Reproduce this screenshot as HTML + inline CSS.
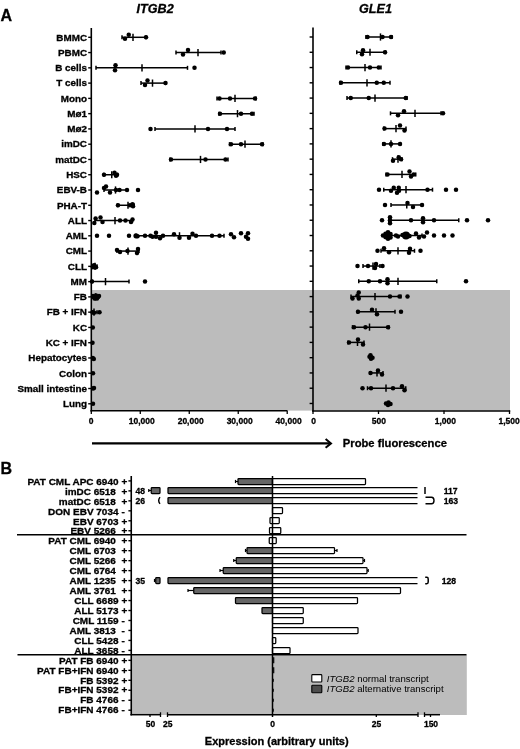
<!DOCTYPE html>
<html><head><meta charset="utf-8"><title>Figure</title>
<style>
html,body{margin:0;padding:0;background:#fff;}
svg{display:block;}
text{font-family:"Liberation Sans",sans-serif;fill:#000;}
</style></head><body>
<svg width="520" height="749" viewBox="0 0 520 749">
<rect x="0" y="0" width="520" height="749" fill="#fff"/>
<rect x="92.00" y="290.00" width="418.00" height="120.60" fill="#bcbcbc"/>
<text transform="translate(87.00,40.60) scale(1.05,1)" font-size="9.4" font-weight="bold" font-style="normal" text-anchor="end" stroke="#000" stroke-width="0.3">BMMC</text>
<line x1="88.20" y1="37.30" x2="91.30" y2="37.30" stroke="#000" stroke-width="1.4" stroke-linecap="butt"/>
<line x1="309.60" y1="37.00" x2="313.00" y2="37.00" stroke="#000" stroke-width="1.4" stroke-linecap="butt"/>
<text transform="translate(87.00,55.87) scale(1.05,1)" font-size="9.4" font-weight="bold" font-style="normal" text-anchor="end" stroke="#000" stroke-width="0.3">PBMC</text>
<line x1="88.20" y1="52.57" x2="91.30" y2="52.57" stroke="#000" stroke-width="1.4" stroke-linecap="butt"/>
<line x1="309.60" y1="52.27" x2="313.00" y2="52.27" stroke="#000" stroke-width="1.4" stroke-linecap="butt"/>
<text transform="translate(87.00,71.14) scale(1.05,1)" font-size="9.4" font-weight="bold" font-style="normal" text-anchor="end" stroke="#000" stroke-width="0.3">B cells</text>
<line x1="88.20" y1="67.84" x2="91.30" y2="67.84" stroke="#000" stroke-width="1.4" stroke-linecap="butt"/>
<line x1="309.60" y1="67.54" x2="313.00" y2="67.54" stroke="#000" stroke-width="1.4" stroke-linecap="butt"/>
<text transform="translate(87.00,86.41) scale(1.05,1)" font-size="9.4" font-weight="bold" font-style="normal" text-anchor="end" stroke="#000" stroke-width="0.3">T cells</text>
<line x1="88.20" y1="83.11" x2="91.30" y2="83.11" stroke="#000" stroke-width="1.4" stroke-linecap="butt"/>
<line x1="309.60" y1="82.81" x2="313.00" y2="82.81" stroke="#000" stroke-width="1.4" stroke-linecap="butt"/>
<text transform="translate(87.00,101.68) scale(1.05,1)" font-size="9.4" font-weight="bold" font-style="normal" text-anchor="end" stroke="#000" stroke-width="0.3">Mono</text>
<line x1="88.20" y1="98.38" x2="91.30" y2="98.38" stroke="#000" stroke-width="1.4" stroke-linecap="butt"/>
<line x1="309.60" y1="98.08" x2="313.00" y2="98.08" stroke="#000" stroke-width="1.4" stroke-linecap="butt"/>
<text transform="translate(87.00,116.95) scale(1.05,1)" font-size="9.4" font-weight="bold" font-style="normal" text-anchor="end" stroke="#000" stroke-width="0.3">Mø1</text>
<line x1="88.20" y1="113.65" x2="91.30" y2="113.65" stroke="#000" stroke-width="1.4" stroke-linecap="butt"/>
<line x1="309.60" y1="113.35" x2="313.00" y2="113.35" stroke="#000" stroke-width="1.4" stroke-linecap="butt"/>
<text transform="translate(87.00,132.22) scale(1.05,1)" font-size="9.4" font-weight="bold" font-style="normal" text-anchor="end" stroke="#000" stroke-width="0.3">Mø2</text>
<line x1="88.20" y1="128.92" x2="91.30" y2="128.92" stroke="#000" stroke-width="1.4" stroke-linecap="butt"/>
<line x1="309.60" y1="128.62" x2="313.00" y2="128.62" stroke="#000" stroke-width="1.4" stroke-linecap="butt"/>
<text transform="translate(87.00,147.49) scale(1.05,1)" font-size="9.4" font-weight="bold" font-style="normal" text-anchor="end" stroke="#000" stroke-width="0.3">imDC</text>
<line x1="88.20" y1="144.19" x2="91.30" y2="144.19" stroke="#000" stroke-width="1.4" stroke-linecap="butt"/>
<line x1="309.60" y1="143.89" x2="313.00" y2="143.89" stroke="#000" stroke-width="1.4" stroke-linecap="butt"/>
<text transform="translate(87.00,162.76) scale(1.05,1)" font-size="9.4" font-weight="bold" font-style="normal" text-anchor="end" stroke="#000" stroke-width="0.3">matDC</text>
<line x1="88.20" y1="159.46" x2="91.30" y2="159.46" stroke="#000" stroke-width="1.4" stroke-linecap="butt"/>
<line x1="309.60" y1="159.16" x2="313.00" y2="159.16" stroke="#000" stroke-width="1.4" stroke-linecap="butt"/>
<text transform="translate(87.00,178.03) scale(1.05,1)" font-size="9.4" font-weight="bold" font-style="normal" text-anchor="end" stroke="#000" stroke-width="0.3">HSC</text>
<line x1="88.20" y1="174.73" x2="91.30" y2="174.73" stroke="#000" stroke-width="1.4" stroke-linecap="butt"/>
<line x1="309.60" y1="174.43" x2="313.00" y2="174.43" stroke="#000" stroke-width="1.4" stroke-linecap="butt"/>
<text transform="translate(87.00,193.30) scale(1.05,1)" font-size="9.4" font-weight="bold" font-style="normal" text-anchor="end" stroke="#000" stroke-width="0.3">EBV-B</text>
<line x1="88.20" y1="190.00" x2="91.30" y2="190.00" stroke="#000" stroke-width="1.4" stroke-linecap="butt"/>
<line x1="309.60" y1="189.70" x2="313.00" y2="189.70" stroke="#000" stroke-width="1.4" stroke-linecap="butt"/>
<text transform="translate(87.00,208.57) scale(1.05,1)" font-size="9.4" font-weight="bold" font-style="normal" text-anchor="end" stroke="#000" stroke-width="0.3">PHA-T</text>
<line x1="88.20" y1="205.27" x2="91.30" y2="205.27" stroke="#000" stroke-width="1.4" stroke-linecap="butt"/>
<line x1="309.60" y1="204.97" x2="313.00" y2="204.97" stroke="#000" stroke-width="1.4" stroke-linecap="butt"/>
<text transform="translate(87.00,223.84) scale(1.05,1)" font-size="9.4" font-weight="bold" font-style="normal" text-anchor="end" stroke="#000" stroke-width="0.3">ALL</text>
<line x1="88.20" y1="220.54" x2="91.30" y2="220.54" stroke="#000" stroke-width="1.4" stroke-linecap="butt"/>
<line x1="309.60" y1="220.24" x2="313.00" y2="220.24" stroke="#000" stroke-width="1.4" stroke-linecap="butt"/>
<text transform="translate(87.00,239.11) scale(1.05,1)" font-size="9.4" font-weight="bold" font-style="normal" text-anchor="end" stroke="#000" stroke-width="0.3">AML</text>
<line x1="88.20" y1="235.81" x2="91.30" y2="235.81" stroke="#000" stroke-width="1.4" stroke-linecap="butt"/>
<line x1="309.60" y1="235.51" x2="313.00" y2="235.51" stroke="#000" stroke-width="1.4" stroke-linecap="butt"/>
<text transform="translate(87.00,254.38) scale(1.05,1)" font-size="9.4" font-weight="bold" font-style="normal" text-anchor="end" stroke="#000" stroke-width="0.3">CML</text>
<line x1="88.20" y1="251.08" x2="91.30" y2="251.08" stroke="#000" stroke-width="1.4" stroke-linecap="butt"/>
<line x1="309.60" y1="250.78" x2="313.00" y2="250.78" stroke="#000" stroke-width="1.4" stroke-linecap="butt"/>
<text transform="translate(87.00,269.65) scale(1.05,1)" font-size="9.4" font-weight="bold" font-style="normal" text-anchor="end" stroke="#000" stroke-width="0.3">CLL</text>
<line x1="88.20" y1="266.35" x2="91.30" y2="266.35" stroke="#000" stroke-width="1.4" stroke-linecap="butt"/>
<line x1="309.60" y1="266.05" x2="313.00" y2="266.05" stroke="#000" stroke-width="1.4" stroke-linecap="butt"/>
<text transform="translate(87.00,284.92) scale(1.05,1)" font-size="9.4" font-weight="bold" font-style="normal" text-anchor="end" stroke="#000" stroke-width="0.3">MM</text>
<line x1="88.20" y1="281.62" x2="91.30" y2="281.62" stroke="#000" stroke-width="1.4" stroke-linecap="butt"/>
<line x1="309.60" y1="281.32" x2="313.00" y2="281.32" stroke="#000" stroke-width="1.4" stroke-linecap="butt"/>
<text transform="translate(87.00,300.19) scale(1.05,1)" font-size="9.4" font-weight="bold" font-style="normal" text-anchor="end" stroke="#000" stroke-width="0.3">FB</text>
<line x1="88.20" y1="296.89" x2="91.30" y2="296.89" stroke="#000" stroke-width="1.4" stroke-linecap="butt"/>
<line x1="309.60" y1="296.59" x2="313.00" y2="296.59" stroke="#000" stroke-width="1.4" stroke-linecap="butt"/>
<text transform="translate(87.00,315.46) scale(1.05,1)" font-size="9.4" font-weight="bold" font-style="normal" text-anchor="end" stroke="#000" stroke-width="0.3">FB + IFN</text>
<line x1="88.20" y1="312.16" x2="91.30" y2="312.16" stroke="#000" stroke-width="1.4" stroke-linecap="butt"/>
<line x1="309.60" y1="311.86" x2="313.00" y2="311.86" stroke="#000" stroke-width="1.4" stroke-linecap="butt"/>
<text transform="translate(87.00,330.73) scale(1.05,1)" font-size="9.4" font-weight="bold" font-style="normal" text-anchor="end" stroke="#000" stroke-width="0.3">KC</text>
<line x1="88.20" y1="327.43" x2="91.30" y2="327.43" stroke="#000" stroke-width="1.4" stroke-linecap="butt"/>
<line x1="309.60" y1="327.13" x2="313.00" y2="327.13" stroke="#000" stroke-width="1.4" stroke-linecap="butt"/>
<text transform="translate(87.00,346.00) scale(1.05,1)" font-size="9.4" font-weight="bold" font-style="normal" text-anchor="end" stroke="#000" stroke-width="0.3">KC + IFN</text>
<line x1="88.20" y1="342.70" x2="91.30" y2="342.70" stroke="#000" stroke-width="1.4" stroke-linecap="butt"/>
<line x1="309.60" y1="342.40" x2="313.00" y2="342.40" stroke="#000" stroke-width="1.4" stroke-linecap="butt"/>
<text transform="translate(87.00,361.27) scale(1.05,1)" font-size="9.4" font-weight="bold" font-style="normal" text-anchor="end" stroke="#000" stroke-width="0.3">Hepatocytes</text>
<line x1="88.20" y1="357.97" x2="91.30" y2="357.97" stroke="#000" stroke-width="1.4" stroke-linecap="butt"/>
<line x1="309.60" y1="357.67" x2="313.00" y2="357.67" stroke="#000" stroke-width="1.4" stroke-linecap="butt"/>
<text transform="translate(87.00,376.54) scale(1.05,1)" font-size="9.4" font-weight="bold" font-style="normal" text-anchor="end" stroke="#000" stroke-width="0.3">Colon</text>
<line x1="88.20" y1="373.24" x2="91.30" y2="373.24" stroke="#000" stroke-width="1.4" stroke-linecap="butt"/>
<line x1="309.60" y1="372.94" x2="313.00" y2="372.94" stroke="#000" stroke-width="1.4" stroke-linecap="butt"/>
<text transform="translate(87.00,391.81) scale(1.05,1)" font-size="9.4" font-weight="bold" font-style="normal" text-anchor="end" stroke="#000" stroke-width="0.3">Small intestine</text>
<line x1="88.20" y1="388.51" x2="91.30" y2="388.51" stroke="#000" stroke-width="1.4" stroke-linecap="butt"/>
<line x1="309.60" y1="388.21" x2="313.00" y2="388.21" stroke="#000" stroke-width="1.4" stroke-linecap="butt"/>
<text transform="translate(87.00,407.08) scale(1.05,1)" font-size="9.4" font-weight="bold" font-style="normal" text-anchor="end" stroke="#000" stroke-width="0.3">Lung</text>
<line x1="88.20" y1="403.78" x2="91.30" y2="403.78" stroke="#000" stroke-width="1.4" stroke-linecap="butt"/>
<line x1="309.60" y1="403.48" x2="313.00" y2="403.48" stroke="#000" stroke-width="1.4" stroke-linecap="butt"/>
<line x1="122.00" y1="37.30" x2="146.00" y2="37.30" stroke="#000" stroke-width="1.5" stroke-linecap="butt"/>
<line x1="122.00" y1="35.30" x2="122.00" y2="39.30" stroke="#000" stroke-width="1.5" stroke-linecap="butt"/>
<line x1="146.00" y1="35.30" x2="146.00" y2="39.30" stroke="#000" stroke-width="1.5" stroke-linecap="butt"/>
<line x1="133.00" y1="33.70" x2="133.00" y2="40.90" stroke="#000" stroke-width="1.5" stroke-linecap="butt"/>
<line x1="176.00" y1="52.57" x2="221.00" y2="52.57" stroke="#000" stroke-width="1.5" stroke-linecap="butt"/>
<line x1="176.00" y1="50.57" x2="176.00" y2="54.57" stroke="#000" stroke-width="1.5" stroke-linecap="butt"/>
<line x1="221.00" y1="50.57" x2="221.00" y2="54.57" stroke="#000" stroke-width="1.5" stroke-linecap="butt"/>
<line x1="198.00" y1="48.97" x2="198.00" y2="56.17" stroke="#000" stroke-width="1.5" stroke-linecap="butt"/>
<line x1="96.00" y1="67.84" x2="187.50" y2="67.84" stroke="#000" stroke-width="1.5" stroke-linecap="butt"/>
<line x1="96.00" y1="65.84" x2="96.00" y2="69.84" stroke="#000" stroke-width="1.5" stroke-linecap="butt"/>
<line x1="187.50" y1="65.84" x2="187.50" y2="69.84" stroke="#000" stroke-width="1.5" stroke-linecap="butt"/>
<line x1="142.00" y1="64.24" x2="142.00" y2="71.44" stroke="#000" stroke-width="1.5" stroke-linecap="butt"/>
<line x1="141.00" y1="83.11" x2="165.50" y2="83.11" stroke="#000" stroke-width="1.5" stroke-linecap="butt"/>
<line x1="141.00" y1="81.11" x2="141.00" y2="85.11" stroke="#000" stroke-width="1.5" stroke-linecap="butt"/>
<line x1="165.50" y1="81.11" x2="165.50" y2="85.11" stroke="#000" stroke-width="1.5" stroke-linecap="butt"/>
<line x1="152.50" y1="79.51" x2="152.50" y2="86.71" stroke="#000" stroke-width="1.5" stroke-linecap="butt"/>
<line x1="217.00" y1="98.38" x2="256.00" y2="98.38" stroke="#000" stroke-width="1.5" stroke-linecap="butt"/>
<line x1="217.00" y1="96.38" x2="217.00" y2="100.38" stroke="#000" stroke-width="1.5" stroke-linecap="butt"/>
<line x1="256.00" y1="96.38" x2="256.00" y2="100.38" stroke="#000" stroke-width="1.5" stroke-linecap="butt"/>
<line x1="235.00" y1="94.78" x2="235.00" y2="101.98" stroke="#000" stroke-width="1.5" stroke-linecap="butt"/>
<line x1="219.00" y1="113.65" x2="254.00" y2="113.65" stroke="#000" stroke-width="1.5" stroke-linecap="butt"/>
<line x1="219.00" y1="111.65" x2="219.00" y2="115.65" stroke="#000" stroke-width="1.5" stroke-linecap="butt"/>
<line x1="254.00" y1="111.65" x2="254.00" y2="115.65" stroke="#000" stroke-width="1.5" stroke-linecap="butt"/>
<line x1="237.50" y1="110.05" x2="237.50" y2="117.25" stroke="#000" stroke-width="1.5" stroke-linecap="butt"/>
<line x1="155.00" y1="128.92" x2="235.00" y2="128.92" stroke="#000" stroke-width="1.5" stroke-linecap="butt"/>
<line x1="155.00" y1="126.92" x2="155.00" y2="130.92" stroke="#000" stroke-width="1.5" stroke-linecap="butt"/>
<line x1="235.00" y1="126.92" x2="235.00" y2="130.92" stroke="#000" stroke-width="1.5" stroke-linecap="butt"/>
<line x1="195.00" y1="125.32" x2="195.00" y2="132.52" stroke="#000" stroke-width="1.5" stroke-linecap="butt"/>
<line x1="229.50" y1="144.19" x2="263.00" y2="144.19" stroke="#000" stroke-width="1.5" stroke-linecap="butt"/>
<line x1="229.50" y1="142.19" x2="229.50" y2="146.19" stroke="#000" stroke-width="1.5" stroke-linecap="butt"/>
<line x1="263.00" y1="142.19" x2="263.00" y2="146.19" stroke="#000" stroke-width="1.5" stroke-linecap="butt"/>
<line x1="245.00" y1="140.59" x2="245.00" y2="147.79" stroke="#000" stroke-width="1.5" stroke-linecap="butt"/>
<line x1="170.00" y1="159.46" x2="228.00" y2="159.46" stroke="#000" stroke-width="1.5" stroke-linecap="butt"/>
<line x1="170.00" y1="157.46" x2="170.00" y2="161.46" stroke="#000" stroke-width="1.5" stroke-linecap="butt"/>
<line x1="228.00" y1="157.46" x2="228.00" y2="161.46" stroke="#000" stroke-width="1.5" stroke-linecap="butt"/>
<line x1="200.50" y1="155.86" x2="200.50" y2="163.06" stroke="#000" stroke-width="1.5" stroke-linecap="butt"/>
<line x1="103.75" y1="174.73" x2="117.50" y2="174.73" stroke="#000" stroke-width="1.5" stroke-linecap="butt"/>
<line x1="103.75" y1="172.73" x2="103.75" y2="176.73" stroke="#000" stroke-width="1.5" stroke-linecap="butt"/>
<line x1="117.50" y1="172.73" x2="117.50" y2="176.73" stroke="#000" stroke-width="1.5" stroke-linecap="butt"/>
<line x1="111.75" y1="171.13" x2="111.75" y2="178.33" stroke="#000" stroke-width="1.5" stroke-linecap="butt"/>
<line x1="104.00" y1="190.00" x2="127.00" y2="190.00" stroke="#000" stroke-width="1.5" stroke-linecap="butt"/>
<line x1="104.00" y1="188.00" x2="104.00" y2="192.00" stroke="#000" stroke-width="1.5" stroke-linecap="butt"/>
<line x1="127.00" y1="188.00" x2="127.00" y2="192.00" stroke="#000" stroke-width="1.5" stroke-linecap="butt"/>
<line x1="115.50" y1="186.40" x2="115.50" y2="193.60" stroke="#000" stroke-width="1.5" stroke-linecap="butt"/>
<line x1="117.50" y1="205.27" x2="134.00" y2="205.27" stroke="#000" stroke-width="1.5" stroke-linecap="butt"/>
<line x1="117.50" y1="203.27" x2="117.50" y2="207.27" stroke="#000" stroke-width="1.5" stroke-linecap="butt"/>
<line x1="134.00" y1="203.27" x2="134.00" y2="207.27" stroke="#000" stroke-width="1.5" stroke-linecap="butt"/>
<line x1="128.00" y1="201.67" x2="128.00" y2="208.87" stroke="#000" stroke-width="1.5" stroke-linecap="butt"/>
<line x1="95.00" y1="220.54" x2="132.50" y2="220.54" stroke="#000" stroke-width="1.5" stroke-linecap="butt"/>
<line x1="95.00" y1="218.54" x2="95.00" y2="222.54" stroke="#000" stroke-width="1.5" stroke-linecap="butt"/>
<line x1="132.50" y1="218.54" x2="132.50" y2="222.54" stroke="#000" stroke-width="1.5" stroke-linecap="butt"/>
<line x1="115.00" y1="216.94" x2="115.00" y2="224.14" stroke="#000" stroke-width="1.5" stroke-linecap="butt"/>
<line x1="136.00" y1="235.81" x2="224.00" y2="235.81" stroke="#000" stroke-width="1.5" stroke-linecap="butt"/>
<line x1="136.00" y1="233.81" x2="136.00" y2="237.81" stroke="#000" stroke-width="1.5" stroke-linecap="butt"/>
<line x1="224.00" y1="233.81" x2="224.00" y2="237.81" stroke="#000" stroke-width="1.5" stroke-linecap="butt"/>
<line x1="179.50" y1="232.21" x2="179.50" y2="239.41" stroke="#000" stroke-width="1.5" stroke-linecap="butt"/>
<line x1="117.00" y1="251.08" x2="139.00" y2="251.08" stroke="#000" stroke-width="1.5" stroke-linecap="butt"/>
<line x1="117.00" y1="249.08" x2="117.00" y2="253.08" stroke="#000" stroke-width="1.5" stroke-linecap="butt"/>
<line x1="139.00" y1="249.08" x2="139.00" y2="253.08" stroke="#000" stroke-width="1.5" stroke-linecap="butt"/>
<line x1="128.00" y1="247.48" x2="128.00" y2="254.68" stroke="#000" stroke-width="1.5" stroke-linecap="butt"/>
<line x1="92.50" y1="266.35" x2="97.00" y2="266.35" stroke="#000" stroke-width="1.5" stroke-linecap="butt"/>
<line x1="92.50" y1="264.35" x2="92.50" y2="268.35" stroke="#000" stroke-width="1.5" stroke-linecap="butt"/>
<line x1="97.00" y1="264.35" x2="97.00" y2="268.35" stroke="#000" stroke-width="1.5" stroke-linecap="butt"/>
<line x1="95.00" y1="262.75" x2="95.00" y2="269.95" stroke="#000" stroke-width="1.5" stroke-linecap="butt"/>
<line x1="92.00" y1="281.62" x2="129.00" y2="281.62" stroke="#000" stroke-width="1.5" stroke-linecap="butt"/>
<line x1="92.00" y1="279.62" x2="92.00" y2="283.62" stroke="#000" stroke-width="1.5" stroke-linecap="butt"/>
<line x1="129.00" y1="279.62" x2="129.00" y2="283.62" stroke="#000" stroke-width="1.5" stroke-linecap="butt"/>
<line x1="105.50" y1="278.02" x2="105.50" y2="285.22" stroke="#000" stroke-width="1.5" stroke-linecap="butt"/>
<line x1="92.50" y1="296.89" x2="99.00" y2="296.89" stroke="#000" stroke-width="1.5" stroke-linecap="butt"/>
<line x1="92.50" y1="294.89" x2="92.50" y2="298.89" stroke="#000" stroke-width="1.5" stroke-linecap="butt"/>
<line x1="99.00" y1="294.89" x2="99.00" y2="298.89" stroke="#000" stroke-width="1.5" stroke-linecap="butt"/>
<line x1="95.50" y1="293.29" x2="95.50" y2="300.49" stroke="#000" stroke-width="1.5" stroke-linecap="butt"/>
<line x1="92.00" y1="312.16" x2="97.00" y2="312.16" stroke="#000" stroke-width="1.5" stroke-linecap="butt"/>
<line x1="92.00" y1="310.16" x2="92.00" y2="314.16" stroke="#000" stroke-width="1.5" stroke-linecap="butt"/>
<line x1="97.00" y1="310.16" x2="97.00" y2="314.16" stroke="#000" stroke-width="1.5" stroke-linecap="butt"/>
<line x1="94.00" y1="308.56" x2="94.00" y2="315.76" stroke="#000" stroke-width="1.5" stroke-linecap="butt"/>
<line x1="366.00" y1="37.00" x2="392.00" y2="37.00" stroke="#000" stroke-width="1.5" stroke-linecap="butt"/>
<line x1="366.00" y1="35.00" x2="366.00" y2="39.00" stroke="#000" stroke-width="1.5" stroke-linecap="butt"/>
<line x1="392.00" y1="35.00" x2="392.00" y2="39.00" stroke="#000" stroke-width="1.5" stroke-linecap="butt"/>
<line x1="380.50" y1="33.40" x2="380.50" y2="40.60" stroke="#000" stroke-width="1.5" stroke-linecap="butt"/>
<line x1="356.75" y1="52.27" x2="385.50" y2="52.27" stroke="#000" stroke-width="1.5" stroke-linecap="butt"/>
<line x1="356.75" y1="50.27" x2="356.75" y2="54.27" stroke="#000" stroke-width="1.5" stroke-linecap="butt"/>
<line x1="385.50" y1="50.27" x2="385.50" y2="54.27" stroke="#000" stroke-width="1.5" stroke-linecap="butt"/>
<line x1="370.00" y1="48.67" x2="370.00" y2="55.87" stroke="#000" stroke-width="1.5" stroke-linecap="butt"/>
<line x1="346.00" y1="67.54" x2="381.00" y2="67.54" stroke="#000" stroke-width="1.5" stroke-linecap="butt"/>
<line x1="346.00" y1="65.54" x2="346.00" y2="69.54" stroke="#000" stroke-width="1.5" stroke-linecap="butt"/>
<line x1="381.00" y1="65.54" x2="381.00" y2="69.54" stroke="#000" stroke-width="1.5" stroke-linecap="butt"/>
<line x1="365.00" y1="63.94" x2="365.00" y2="71.14" stroke="#000" stroke-width="1.5" stroke-linecap="butt"/>
<line x1="340.00" y1="82.81" x2="390.00" y2="82.81" stroke="#000" stroke-width="1.5" stroke-linecap="butt"/>
<line x1="340.00" y1="80.81" x2="340.00" y2="84.81" stroke="#000" stroke-width="1.5" stroke-linecap="butt"/>
<line x1="390.00" y1="80.81" x2="390.00" y2="84.81" stroke="#000" stroke-width="1.5" stroke-linecap="butt"/>
<line x1="367.00" y1="79.21" x2="367.00" y2="86.41" stroke="#000" stroke-width="1.5" stroke-linecap="butt"/>
<line x1="347.00" y1="98.08" x2="407.00" y2="98.08" stroke="#000" stroke-width="1.5" stroke-linecap="butt"/>
<line x1="347.00" y1="96.08" x2="347.00" y2="100.08" stroke="#000" stroke-width="1.5" stroke-linecap="butt"/>
<line x1="407.00" y1="96.08" x2="407.00" y2="100.08" stroke="#000" stroke-width="1.5" stroke-linecap="butt"/>
<line x1="375.00" y1="94.48" x2="375.00" y2="101.68" stroke="#000" stroke-width="1.5" stroke-linecap="butt"/>
<line x1="390.50" y1="113.35" x2="441.00" y2="113.35" stroke="#000" stroke-width="1.5" stroke-linecap="butt"/>
<line x1="390.50" y1="111.35" x2="390.50" y2="115.35" stroke="#000" stroke-width="1.5" stroke-linecap="butt"/>
<line x1="441.00" y1="111.35" x2="441.00" y2="115.35" stroke="#000" stroke-width="1.5" stroke-linecap="butt"/>
<line x1="415.00" y1="109.75" x2="415.00" y2="116.95" stroke="#000" stroke-width="1.5" stroke-linecap="butt"/>
<line x1="383.75" y1="128.62" x2="406.00" y2="128.62" stroke="#000" stroke-width="1.5" stroke-linecap="butt"/>
<line x1="383.75" y1="126.62" x2="383.75" y2="130.62" stroke="#000" stroke-width="1.5" stroke-linecap="butt"/>
<line x1="406.00" y1="126.62" x2="406.00" y2="130.62" stroke="#000" stroke-width="1.5" stroke-linecap="butt"/>
<line x1="396.00" y1="125.02" x2="396.00" y2="132.22" stroke="#000" stroke-width="1.5" stroke-linecap="butt"/>
<line x1="383.00" y1="143.89" x2="400.50" y2="143.89" stroke="#000" stroke-width="1.5" stroke-linecap="butt"/>
<line x1="383.00" y1="141.89" x2="383.00" y2="145.89" stroke="#000" stroke-width="1.5" stroke-linecap="butt"/>
<line x1="400.50" y1="141.89" x2="400.50" y2="145.89" stroke="#000" stroke-width="1.5" stroke-linecap="butt"/>
<line x1="391.00" y1="140.29" x2="391.00" y2="147.49" stroke="#000" stroke-width="1.5" stroke-linecap="butt"/>
<line x1="392.50" y1="159.16" x2="402.00" y2="159.16" stroke="#000" stroke-width="1.5" stroke-linecap="butt"/>
<line x1="392.50" y1="157.16" x2="392.50" y2="161.16" stroke="#000" stroke-width="1.5" stroke-linecap="butt"/>
<line x1="402.00" y1="157.16" x2="402.00" y2="161.16" stroke="#000" stroke-width="1.5" stroke-linecap="butt"/>
<line x1="398.00" y1="155.56" x2="398.00" y2="162.76" stroke="#000" stroke-width="1.5" stroke-linecap="butt"/>
<line x1="386.00" y1="174.43" x2="415.75" y2="174.43" stroke="#000" stroke-width="1.5" stroke-linecap="butt"/>
<line x1="386.00" y1="172.43" x2="386.00" y2="176.43" stroke="#000" stroke-width="1.5" stroke-linecap="butt"/>
<line x1="415.75" y1="172.43" x2="415.75" y2="176.43" stroke="#000" stroke-width="1.5" stroke-linecap="butt"/>
<line x1="402.00" y1="170.83" x2="402.00" y2="178.03" stroke="#000" stroke-width="1.5" stroke-linecap="butt"/>
<line x1="383.75" y1="189.70" x2="432.50" y2="189.70" stroke="#000" stroke-width="1.5" stroke-linecap="butt"/>
<line x1="383.75" y1="187.70" x2="383.75" y2="191.70" stroke="#000" stroke-width="1.5" stroke-linecap="butt"/>
<line x1="432.50" y1="187.70" x2="432.50" y2="191.70" stroke="#000" stroke-width="1.5" stroke-linecap="butt"/>
<line x1="406.00" y1="186.10" x2="406.00" y2="193.30" stroke="#000" stroke-width="1.5" stroke-linecap="butt"/>
<line x1="391.00" y1="204.97" x2="422.50" y2="204.97" stroke="#000" stroke-width="1.5" stroke-linecap="butt"/>
<line x1="391.00" y1="202.97" x2="391.00" y2="206.97" stroke="#000" stroke-width="1.5" stroke-linecap="butt"/>
<line x1="422.50" y1="202.97" x2="422.50" y2="206.97" stroke="#000" stroke-width="1.5" stroke-linecap="butt"/>
<line x1="406.75" y1="201.37" x2="406.75" y2="208.57" stroke="#000" stroke-width="1.5" stroke-linecap="butt"/>
<line x1="388.75" y1="220.24" x2="458.75" y2="220.24" stroke="#000" stroke-width="1.5" stroke-linecap="butt"/>
<line x1="388.75" y1="218.24" x2="388.75" y2="222.24" stroke="#000" stroke-width="1.5" stroke-linecap="butt"/>
<line x1="458.75" y1="218.24" x2="458.75" y2="222.24" stroke="#000" stroke-width="1.5" stroke-linecap="butt"/>
<line x1="423.00" y1="216.64" x2="423.00" y2="223.84" stroke="#000" stroke-width="1.5" stroke-linecap="butt"/>
<line x1="381.00" y1="250.78" x2="414.50" y2="250.78" stroke="#000" stroke-width="1.5" stroke-linecap="butt"/>
<line x1="381.00" y1="248.78" x2="381.00" y2="252.78" stroke="#000" stroke-width="1.5" stroke-linecap="butt"/>
<line x1="414.50" y1="248.78" x2="414.50" y2="252.78" stroke="#000" stroke-width="1.5" stroke-linecap="butt"/>
<line x1="398.00" y1="247.18" x2="398.00" y2="254.38" stroke="#000" stroke-width="1.5" stroke-linecap="butt"/>
<line x1="363.00" y1="266.05" x2="380.00" y2="266.05" stroke="#000" stroke-width="1.5" stroke-linecap="butt"/>
<line x1="363.00" y1="264.05" x2="363.00" y2="268.05" stroke="#000" stroke-width="1.5" stroke-linecap="butt"/>
<line x1="380.00" y1="264.05" x2="380.00" y2="268.05" stroke="#000" stroke-width="1.5" stroke-linecap="butt"/>
<line x1="373.00" y1="262.45" x2="373.00" y2="269.65" stroke="#000" stroke-width="1.5" stroke-linecap="butt"/>
<line x1="358.75" y1="281.32" x2="436.75" y2="281.32" stroke="#000" stroke-width="1.5" stroke-linecap="butt"/>
<line x1="358.75" y1="279.32" x2="358.75" y2="283.32" stroke="#000" stroke-width="1.5" stroke-linecap="butt"/>
<line x1="436.75" y1="279.32" x2="436.75" y2="283.32" stroke="#000" stroke-width="1.5" stroke-linecap="butt"/>
<line x1="398.00" y1="277.72" x2="398.00" y2="284.92" stroke="#000" stroke-width="1.5" stroke-linecap="butt"/>
<line x1="351.00" y1="296.59" x2="401.00" y2="296.59" stroke="#000" stroke-width="1.5" stroke-linecap="butt"/>
<line x1="351.00" y1="294.59" x2="351.00" y2="298.59" stroke="#000" stroke-width="1.5" stroke-linecap="butt"/>
<line x1="401.00" y1="294.59" x2="401.00" y2="298.59" stroke="#000" stroke-width="1.5" stroke-linecap="butt"/>
<line x1="375.00" y1="292.99" x2="375.00" y2="300.19" stroke="#000" stroke-width="1.5" stroke-linecap="butt"/>
<line x1="357.50" y1="311.86" x2="395.00" y2="311.86" stroke="#000" stroke-width="1.5" stroke-linecap="butt"/>
<line x1="357.50" y1="309.86" x2="357.50" y2="313.86" stroke="#000" stroke-width="1.5" stroke-linecap="butt"/>
<line x1="395.00" y1="309.86" x2="395.00" y2="313.86" stroke="#000" stroke-width="1.5" stroke-linecap="butt"/>
<line x1="376.00" y1="308.26" x2="376.00" y2="315.46" stroke="#000" stroke-width="1.5" stroke-linecap="butt"/>
<line x1="352.50" y1="327.13" x2="389.00" y2="327.13" stroke="#000" stroke-width="1.5" stroke-linecap="butt"/>
<line x1="352.50" y1="325.13" x2="352.50" y2="329.13" stroke="#000" stroke-width="1.5" stroke-linecap="butt"/>
<line x1="389.00" y1="325.13" x2="389.00" y2="329.13" stroke="#000" stroke-width="1.5" stroke-linecap="butt"/>
<line x1="369.50" y1="323.53" x2="369.50" y2="330.73" stroke="#000" stroke-width="1.5" stroke-linecap="butt"/>
<line x1="348.00" y1="342.40" x2="364.00" y2="342.40" stroke="#000" stroke-width="1.5" stroke-linecap="butt"/>
<line x1="348.00" y1="340.40" x2="348.00" y2="344.40" stroke="#000" stroke-width="1.5" stroke-linecap="butt"/>
<line x1="364.00" y1="340.40" x2="364.00" y2="344.40" stroke="#000" stroke-width="1.5" stroke-linecap="butt"/>
<line x1="357.50" y1="338.80" x2="357.50" y2="346.00" stroke="#000" stroke-width="1.5" stroke-linecap="butt"/>
<line x1="370.00" y1="372.94" x2="383.00" y2="372.94" stroke="#000" stroke-width="1.5" stroke-linecap="butt"/>
<line x1="370.00" y1="370.94" x2="370.00" y2="374.94" stroke="#000" stroke-width="1.5" stroke-linecap="butt"/>
<line x1="383.00" y1="370.94" x2="383.00" y2="374.94" stroke="#000" stroke-width="1.5" stroke-linecap="butt"/>
<line x1="377.00" y1="369.34" x2="377.00" y2="376.54" stroke="#000" stroke-width="1.5" stroke-linecap="butt"/>
<line x1="367.50" y1="388.21" x2="405.75" y2="388.21" stroke="#000" stroke-width="1.5" stroke-linecap="butt"/>
<line x1="367.50" y1="386.21" x2="367.50" y2="390.21" stroke="#000" stroke-width="1.5" stroke-linecap="butt"/>
<line x1="405.75" y1="386.21" x2="405.75" y2="390.21" stroke="#000" stroke-width="1.5" stroke-linecap="butt"/>
<line x1="386.00" y1="384.61" x2="386.00" y2="391.81" stroke="#000" stroke-width="1.5" stroke-linecap="butt"/>
<line x1="390.00" y1="235.51" x2="422.00" y2="235.51" stroke="#000" stroke-width="1.5" stroke-linecap="butt"/>
<line x1="390.00" y1="233.51" x2="390.00" y2="237.51" stroke="#000" stroke-width="1.5" stroke-linecap="butt"/>
<line x1="422.00" y1="233.51" x2="422.00" y2="237.51" stroke="#000" stroke-width="1.5" stroke-linecap="butt"/>
<line x1="406.00" y1="231.91" x2="406.00" y2="239.11" stroke="#000" stroke-width="1.5" stroke-linecap="butt"/>
<g fill="#000">
<circle cx="125.00" cy="38.80" r="2.25"/>
<circle cx="128.75" cy="34.80" r="2.25"/>
<circle cx="146.00" cy="37.30" r="2.25"/>
<circle cx="183.00" cy="54.57" r="2.25"/>
<circle cx="188.00" cy="50.07" r="2.25"/>
<circle cx="223.75" cy="52.57" r="2.25"/>
<circle cx="115.50" cy="65.34" r="2.25"/>
<circle cx="115.00" cy="70.34" r="2.25"/>
<circle cx="194.50" cy="67.84" r="2.25"/>
<circle cx="145.00" cy="85.11" r="2.25"/>
<circle cx="147.50" cy="80.61" r="2.25"/>
<circle cx="165.50" cy="83.11" r="2.25"/>
<circle cx="219.50" cy="98.38" r="2.25"/>
<circle cx="230.00" cy="98.38" r="2.25"/>
<circle cx="255.00" cy="98.38" r="2.25"/>
<circle cx="220.00" cy="113.65" r="2.25"/>
<circle cx="241.00" cy="113.65" r="2.25"/>
<circle cx="252.00" cy="113.65" r="2.25"/>
<circle cx="150.50" cy="128.92" r="2.25"/>
<circle cx="208.00" cy="128.92" r="2.25"/>
<circle cx="227.00" cy="128.92" r="2.25"/>
<circle cx="231.00" cy="144.19" r="2.25"/>
<circle cx="241.00" cy="144.19" r="2.25"/>
<circle cx="262.00" cy="144.19" r="2.25"/>
<circle cx="171.00" cy="159.46" r="2.25"/>
<circle cx="205.50" cy="159.46" r="2.25"/>
<circle cx="225.50" cy="159.46" r="2.25"/>
<circle cx="104.00" cy="174.73" r="2.25"/>
<circle cx="114.50" cy="172.73" r="2.25"/>
<circle cx="116.00" cy="175.73" r="2.25"/>
<circle cx="117.00" cy="174.73" r="2.25"/>
<circle cx="97.00" cy="192.50" r="2.25"/>
<circle cx="104.00" cy="188.00" r="2.25"/>
<circle cx="106.00" cy="186.50" r="2.25"/>
<circle cx="110.00" cy="192.50" r="2.25"/>
<circle cx="116.00" cy="190.00" r="2.25"/>
<circle cx="119.50" cy="190.00" r="2.25"/>
<circle cx="127.00" cy="190.00" r="2.25"/>
<circle cx="138.00" cy="190.00" r="2.25"/>
<circle cx="118.00" cy="205.27" r="2.25"/>
<circle cx="130.00" cy="205.27" r="2.25"/>
<circle cx="132.50" cy="204.27" r="2.25"/>
<circle cx="133.00" cy="206.27" r="2.25"/>
<circle cx="94.30" cy="223.04" r="2.25"/>
<circle cx="95.60" cy="218.54" r="2.25"/>
<circle cx="100.50" cy="217.54" r="2.25"/>
<circle cx="102.50" cy="222.04" r="2.25"/>
<circle cx="120.00" cy="220.54" r="2.25"/>
<circle cx="125.50" cy="220.54" r="2.25"/>
<circle cx="131.00" cy="222.04" r="2.25"/>
<circle cx="132.50" cy="219.54" r="2.25"/>
<circle cx="97.00" cy="235.81" r="2.25"/>
<circle cx="109.00" cy="235.81" r="2.25"/>
<circle cx="129.00" cy="235.81" r="2.25"/>
<circle cx="136.00" cy="235.81" r="2.6"/>
<circle cx="137.50" cy="236.31" r="2.25"/>
<circle cx="145.00" cy="235.81" r="2.25"/>
<circle cx="150.50" cy="235.81" r="2.25"/>
<circle cx="152.50" cy="236.81" r="2.25"/>
<circle cx="156.00" cy="232.81" r="2.25"/>
<circle cx="156.00" cy="236.81" r="2.25"/>
<circle cx="160.00" cy="238.31" r="2.25"/>
<circle cx="163.00" cy="235.81" r="2.25"/>
<circle cx="174.00" cy="234.31" r="2.25"/>
<circle cx="179.50" cy="237.81" r="2.25"/>
<circle cx="189.00" cy="237.81" r="2.25"/>
<circle cx="192.50" cy="233.81" r="2.25"/>
<circle cx="196.00" cy="235.81" r="2.25"/>
<circle cx="212.00" cy="235.81" r="2.25"/>
<circle cx="219.50" cy="235.81" r="2.25"/>
<circle cx="231.00" cy="234.31" r="2.25"/>
<circle cx="234.00" cy="237.31" r="2.25"/>
<circle cx="241.00" cy="233.31" r="2.25"/>
<circle cx="248.00" cy="233.31" r="2.25"/>
<circle cx="246.00" cy="236.81" r="2.25"/>
<circle cx="248.00" cy="238.81" r="2.25"/>
<circle cx="117.00" cy="250.08" r="2.25"/>
<circle cx="120.00" cy="252.08" r="2.25"/>
<circle cx="127.50" cy="251.08" r="2.25"/>
<circle cx="137.00" cy="253.08" r="2.25"/>
<circle cx="138.00" cy="249.08" r="2.25"/>
<circle cx="94.00" cy="265.35" r="2.25"/>
<circle cx="96.00" cy="267.35" r="2.25"/>
<circle cx="93.00" cy="267.35" r="2.25"/>
<circle cx="92.00" cy="281.62" r="2.25"/>
<circle cx="145.00" cy="281.62" r="2.25"/>
<circle cx="93.00" cy="295.89" r="2.25"/>
<circle cx="94.50" cy="298.39" r="2.25"/>
<circle cx="96.00" cy="295.39" r="2.25"/>
<circle cx="97.00" cy="298.39" r="2.25"/>
<circle cx="99.00" cy="295.89" r="2.25"/>
<circle cx="92.50" cy="312.16" r="2.25"/>
<circle cx="94.00" cy="312.66" r="2.25"/>
<circle cx="99.50" cy="312.16" r="2.25"/>
<circle cx="92.80" cy="327.43" r="2.25"/>
<circle cx="92.50" cy="342.70" r="2.25"/>
<circle cx="92.80" cy="357.97" r="2.25"/>
<circle cx="93.80" cy="358.97" r="2.25"/>
<circle cx="93.00" cy="373.24" r="2.25"/>
<circle cx="93.00" cy="388.51" r="2.25"/>
<circle cx="94.00" cy="388.01" r="2.25"/>
<circle cx="93.00" cy="403.78" r="2.25"/>
<circle cx="367.50" cy="37.00" r="2.25"/>
<circle cx="382.50" cy="37.00" r="2.25"/>
<circle cx="391.00" cy="37.00" r="2.25"/>
<circle cx="363.00" cy="50.27" r="2.25"/>
<circle cx="362.00" cy="54.27" r="2.25"/>
<circle cx="385.00" cy="52.27" r="2.25"/>
<circle cx="348.00" cy="67.54" r="2.25"/>
<circle cx="370.00" cy="67.54" r="2.25"/>
<circle cx="378.75" cy="67.54" r="2.25"/>
<circle cx="341.00" cy="82.81" r="2.25"/>
<circle cx="376.75" cy="82.81" r="2.25"/>
<circle cx="383.75" cy="82.81" r="2.25"/>
<circle cx="350.75" cy="98.08" r="2.25"/>
<circle cx="368.75" cy="98.08" r="2.25"/>
<circle cx="405.75" cy="98.08" r="2.25"/>
<circle cx="398.00" cy="115.35" r="2.25"/>
<circle cx="404.00" cy="111.35" r="2.25"/>
<circle cx="443.00" cy="113.35" r="2.25"/>
<circle cx="384.50" cy="128.62" r="2.25"/>
<circle cx="400.00" cy="125.62" r="2.25"/>
<circle cx="404.50" cy="130.62" r="2.25"/>
<circle cx="384.00" cy="143.89" r="2.25"/>
<circle cx="391.00" cy="143.89" r="2.25"/>
<circle cx="400.00" cy="143.89" r="2.25"/>
<circle cx="393.00" cy="160.66" r="2.25"/>
<circle cx="398.75" cy="157.16" r="2.25"/>
<circle cx="401.00" cy="159.16" r="2.25"/>
<circle cx="387.50" cy="174.43" r="2.25"/>
<circle cx="409.50" cy="171.43" r="2.25"/>
<circle cx="411.00" cy="176.43" r="2.25"/>
<circle cx="413.75" cy="174.43" r="2.25"/>
<circle cx="379.00" cy="189.70" r="2.25"/>
<circle cx="391.00" cy="190.70" r="2.25"/>
<circle cx="393.75" cy="187.70" r="2.25"/>
<circle cx="398.75" cy="187.70" r="2.25"/>
<circle cx="397.00" cy="192.70" r="2.25"/>
<circle cx="399.00" cy="190.70" r="2.25"/>
<circle cx="427.50" cy="189.70" r="2.25"/>
<circle cx="446.00" cy="189.70" r="2.25"/>
<circle cx="456.00" cy="189.70" r="2.25"/>
<circle cx="385.00" cy="204.97" r="2.25"/>
<circle cx="407.50" cy="202.97" r="2.25"/>
<circle cx="413.00" cy="206.97" r="2.25"/>
<circle cx="422.00" cy="204.97" r="2.25"/>
<circle cx="382.00" cy="220.24" r="2.25"/>
<circle cx="390.00" cy="217.24" r="2.25"/>
<circle cx="390.00" cy="220.24" r="2.25"/>
<circle cx="390.00" cy="223.24" r="2.25"/>
<circle cx="411.00" cy="220.24" r="2.25"/>
<circle cx="423.00" cy="218.24" r="2.25"/>
<circle cx="423.00" cy="222.24" r="2.25"/>
<circle cx="434.00" cy="220.24" r="2.25"/>
<circle cx="467.00" cy="220.24" r="2.25"/>
<circle cx="488.00" cy="220.24" r="2.25"/>
<circle cx="383.00" cy="235.51" r="2.3"/>
<circle cx="385.50" cy="233.91" r="2.3"/>
<circle cx="385.50" cy="237.11" r="2.3"/>
<circle cx="388.00" cy="232.31" r="2.3"/>
<circle cx="388.00" cy="235.51" r="2.5"/>
<circle cx="388.00" cy="238.71" r="2.3"/>
<circle cx="390.50" cy="234.01" r="2.3"/>
<circle cx="390.50" cy="237.51" r="2.3"/>
<circle cx="396.00" cy="235.51" r="2.25"/>
<circle cx="398.00" cy="236.51" r="2.25"/>
<circle cx="406.00" cy="235.51" r="4.0"/>
<circle cx="402.50" cy="235.01" r="2.25"/>
<circle cx="409.50" cy="236.01" r="2.25"/>
<circle cx="416.00" cy="233.51" r="2.25"/>
<circle cx="419.00" cy="237.51" r="2.25"/>
<circle cx="424.00" cy="236.51" r="2.25"/>
<circle cx="427.00" cy="232.51" r="2.25"/>
<circle cx="434.00" cy="235.51" r="2.25"/>
<circle cx="444.00" cy="235.51" r="2.25"/>
<circle cx="452.50" cy="235.51" r="2.25"/>
<circle cx="377.50" cy="250.78" r="2.25"/>
<circle cx="384.00" cy="248.28" r="2.25"/>
<circle cx="389.00" cy="252.28" r="2.25"/>
<circle cx="409.00" cy="252.78" r="2.25"/>
<circle cx="410.00" cy="248.78" r="2.25"/>
<circle cx="420.50" cy="250.78" r="2.25"/>
<circle cx="357.50" cy="266.05" r="2.25"/>
<circle cx="368.00" cy="266.05" r="2.25"/>
<circle cx="376.00" cy="264.05" r="2.25"/>
<circle cx="375.00" cy="268.05" r="2.25"/>
<circle cx="382.50" cy="266.05" r="2.25"/>
<circle cx="368.75" cy="281.32" r="2.25"/>
<circle cx="380.00" cy="281.32" r="2.25"/>
<circle cx="387.50" cy="279.32" r="2.25"/>
<circle cx="387.50" cy="283.32" r="2.25"/>
<circle cx="466.00" cy="281.32" r="2.25"/>
<circle cx="352.50" cy="298.59" r="2.25"/>
<circle cx="357.50" cy="295.59" r="2.25"/>
<circle cx="358.75" cy="292.59" r="2.25"/>
<circle cx="358.75" cy="298.59" r="2.25"/>
<circle cx="390.00" cy="296.59" r="2.25"/>
<circle cx="399.50" cy="296.59" r="2.25"/>
<circle cx="407.50" cy="296.59" r="2.25"/>
<circle cx="358.00" cy="311.86" r="2.25"/>
<circle cx="372.00" cy="309.86" r="2.25"/>
<circle cx="377.00" cy="314.36" r="2.25"/>
<circle cx="401.00" cy="311.86" r="2.25"/>
<circle cx="354.00" cy="327.13" r="2.25"/>
<circle cx="365.50" cy="327.13" r="2.25"/>
<circle cx="388.00" cy="327.13" r="2.25"/>
<circle cx="349.00" cy="342.40" r="2.25"/>
<circle cx="358.00" cy="339.40" r="2.25"/>
<circle cx="363.00" cy="344.40" r="2.25"/>
<circle cx="369.50" cy="356.67" r="2.25"/>
<circle cx="371.00" cy="358.67" r="2.25"/>
<circle cx="372.50" cy="357.67" r="2.25"/>
<circle cx="370.50" cy="355.17" r="2.25"/>
<circle cx="370.50" cy="372.94" r="2.25"/>
<circle cx="378.00" cy="370.44" r="2.25"/>
<circle cx="382.00" cy="374.44" r="2.25"/>
<circle cx="362.50" cy="388.21" r="2.25"/>
<circle cx="371.00" cy="388.21" r="2.25"/>
<circle cx="393.00" cy="388.21" r="2.25"/>
<circle cx="402.00" cy="386.21" r="2.25"/>
<circle cx="404.50" cy="390.21" r="2.25"/>
<circle cx="386.00" cy="403.48" r="2.25"/>
<circle cx="388.50" cy="402.48" r="2.25"/>
<circle cx="390.50" cy="403.98" r="2.25"/>
<circle cx="388.00" cy="404.98" r="2.25"/>
</g>
<line x1="91.30" y1="28.00" x2="91.30" y2="411.40" stroke="#000" stroke-width="1.6" stroke-linecap="butt"/>
<line x1="313.00" y1="27.50" x2="313.00" y2="411.50" stroke="#000" stroke-width="1.6" stroke-linecap="butt"/>
<line x1="90.50" y1="410.75" x2="287.20" y2="410.75" stroke="#000" stroke-width="1.5" stroke-linecap="butt"/>
<line x1="312.20" y1="410.90" x2="510.20" y2="410.90" stroke="#000" stroke-width="1.5" stroke-linecap="butt"/>
<line x1="91.30" y1="410.50" x2="91.30" y2="414.00" stroke="#000" stroke-width="1.3" stroke-linecap="butt"/>
<text transform="translate(91.00,423.80) scale(1.0,1)" font-size="8.5" font-weight="bold" font-style="normal" text-anchor="middle" stroke="#000" stroke-width="0.3">0</text>
<line x1="140.28" y1="410.50" x2="140.28" y2="414.00" stroke="#000" stroke-width="1.3" stroke-linecap="butt"/>
<text transform="translate(141.68,423.80) scale(1.0,1)" font-size="8.5" font-weight="bold" font-style="normal" text-anchor="middle" stroke="#000" stroke-width="0.3">10,000</text>
<line x1="189.26" y1="410.50" x2="189.26" y2="414.00" stroke="#000" stroke-width="1.3" stroke-linecap="butt"/>
<text transform="translate(190.66,423.80) scale(1.0,1)" font-size="8.5" font-weight="bold" font-style="normal" text-anchor="middle" stroke="#000" stroke-width="0.3">20,000</text>
<line x1="238.24" y1="410.50" x2="238.24" y2="414.00" stroke="#000" stroke-width="1.3" stroke-linecap="butt"/>
<text transform="translate(239.64,423.80) scale(1.0,1)" font-size="8.5" font-weight="bold" font-style="normal" text-anchor="middle" stroke="#000" stroke-width="0.3">30,000</text>
<line x1="287.22" y1="410.50" x2="287.22" y2="414.00" stroke="#000" stroke-width="1.3" stroke-linecap="butt"/>
<text transform="translate(288.62,423.80) scale(1.0,1)" font-size="8.5" font-weight="bold" font-style="normal" text-anchor="middle" stroke="#000" stroke-width="0.3">40,000</text>
<line x1="313.00" y1="410.50" x2="313.00" y2="414.00" stroke="#000" stroke-width="1.3" stroke-linecap="butt"/>
<text transform="translate(313.50,423.70) scale(1.0,1)" font-size="8.5" font-weight="bold" font-style="normal" text-anchor="middle" stroke="#000" stroke-width="0.3">0</text>
<line x1="378.50" y1="410.50" x2="378.50" y2="414.00" stroke="#000" stroke-width="1.3" stroke-linecap="butt"/>
<text transform="translate(378.80,423.70) scale(1.0,1)" font-size="8.5" font-weight="bold" font-style="normal" text-anchor="middle" stroke="#000" stroke-width="0.3">500</text>
<line x1="444.00" y1="410.50" x2="444.00" y2="414.00" stroke="#000" stroke-width="1.3" stroke-linecap="butt"/>
<text transform="translate(445.40,423.70) scale(1.0,1)" font-size="8.5" font-weight="bold" font-style="normal" text-anchor="middle" stroke="#000" stroke-width="0.3">1,000</text>
<line x1="509.50" y1="410.50" x2="509.50" y2="414.00" stroke="#000" stroke-width="1.3" stroke-linecap="butt"/>
<text transform="translate(509.10,423.70) scale(1.0,1)" font-size="8.5" font-weight="bold" font-style="normal" text-anchor="middle" stroke="#000" stroke-width="0.3">1,500</text>
<text transform="translate(136.60,12.50) scale(1.05,1)" font-size="12" font-weight="bold" font-style="italic" text-anchor="start" stroke="#000" stroke-width="0.3">ITGB2</text>
<text transform="translate(359.00,12.50) scale(1.05,1)" font-size="12" font-weight="bold" font-style="italic" text-anchor="start" stroke="#000" stroke-width="0.3">GLE1</text>
<text transform="translate(0.60,21.00) scale(1.0,1)" font-size="16" font-weight="bold" font-style="normal" text-anchor="start" stroke="#000" stroke-width="0.3">A</text>
<text transform="translate(0.40,473.50) scale(1.0,1)" font-size="16" font-weight="bold" font-style="normal" text-anchor="start" stroke="#000" stroke-width="0.3">B</text>
<line x1="92.00" y1="443.40" x2="329.80" y2="443.40" stroke="#000" stroke-width="2.1" stroke-linecap="butt"/>
<polyline points="325.6,439 331,443.4 325.6,447.8" fill="none" stroke="#000" stroke-width="2" stroke-linejoin="miter"/>
<text transform="translate(342.80,447.10) scale(1.02,1)" font-size="11" font-weight="bold" font-style="normal" text-anchor="start" stroke="#000" stroke-width="0.3">Probe fluorescence</text>
<rect x="131.50" y="655.30" width="335.30" height="59.70" fill="#bcbcbc"/>
<text transform="translate(118.50,484.80) scale(1.03,1)" font-size="9.7" font-weight="bold" font-style="normal" text-anchor="end" stroke="#000" stroke-width="0.3">PAT CML APC 6940</text>
<text transform="translate(121.60,484.80) scale(1.03,1)" font-size="9.7" font-weight="bold" font-style="normal" text-anchor="start" stroke="#000" stroke-width="0.3">+</text>
<line x1="128.40" y1="480.90" x2="131.25" y2="480.90" stroke="#000" stroke-width="1.4" stroke-linecap="butt"/>
<text transform="translate(115.90,494.73) scale(1.03,1)" font-size="9.7" font-weight="bold" font-style="normal" text-anchor="end" stroke="#000" stroke-width="0.3">imDC 6518</text>
<text transform="translate(121.60,494.73) scale(1.03,1)" font-size="9.7" font-weight="bold" font-style="normal" text-anchor="start" stroke="#000" stroke-width="0.3">+</text>
<line x1="128.40" y1="490.87" x2="131.25" y2="490.87" stroke="#000" stroke-width="1.4" stroke-linecap="butt"/>
<text transform="translate(115.90,504.67) scale(1.03,1)" font-size="9.7" font-weight="bold" font-style="normal" text-anchor="end" stroke="#000" stroke-width="0.3">matDC 6518</text>
<text transform="translate(121.60,504.67) scale(1.03,1)" font-size="9.7" font-weight="bold" font-style="normal" text-anchor="start" stroke="#000" stroke-width="0.3">+</text>
<line x1="128.40" y1="500.84" x2="131.25" y2="500.84" stroke="#000" stroke-width="1.4" stroke-linecap="butt"/>
<text transform="translate(118.50,514.60) scale(1.03,1)" font-size="9.7" font-weight="bold" font-style="normal" text-anchor="end" stroke="#000" stroke-width="0.3">DON EBV 7034</text>
<text transform="translate(121.60,514.60) scale(1.03,1)" font-size="9.7" font-weight="bold" font-style="normal" text-anchor="start" stroke="#000" stroke-width="0.3">-</text>
<line x1="128.40" y1="510.81" x2="131.25" y2="510.81" stroke="#000" stroke-width="1.4" stroke-linecap="butt"/>
<text transform="translate(118.50,524.54) scale(1.03,1)" font-size="9.7" font-weight="bold" font-style="normal" text-anchor="end" stroke="#000" stroke-width="0.3">EBV 6703</text>
<text transform="translate(121.60,524.54) scale(1.03,1)" font-size="9.7" font-weight="bold" font-style="normal" text-anchor="start" stroke="#000" stroke-width="0.3">+</text>
<line x1="128.40" y1="520.78" x2="131.25" y2="520.78" stroke="#000" stroke-width="1.4" stroke-linecap="butt"/>
<text transform="translate(115.90,534.47) scale(1.03,1)" font-size="9.7" font-weight="bold" font-style="normal" text-anchor="end" stroke="#000" stroke-width="0.3">EBV 5266</text>
<text transform="translate(121.60,534.47) scale(1.03,1)" font-size="9.7" font-weight="bold" font-style="normal" text-anchor="start" stroke="#000" stroke-width="0.3">+</text>
<line x1="128.40" y1="530.75" x2="131.25" y2="530.75" stroke="#000" stroke-width="1.4" stroke-linecap="butt"/>
<text transform="translate(115.90,544.41) scale(1.03,1)" font-size="9.7" font-weight="bold" font-style="normal" text-anchor="end" stroke="#000" stroke-width="0.3">PAT CML 6940</text>
<text transform="translate(121.60,544.41) scale(1.03,1)" font-size="9.7" font-weight="bold" font-style="normal" text-anchor="start" stroke="#000" stroke-width="0.3">+</text>
<line x1="128.40" y1="540.72" x2="131.25" y2="540.72" stroke="#000" stroke-width="1.4" stroke-linecap="butt"/>
<text transform="translate(115.90,554.34) scale(1.03,1)" font-size="9.7" font-weight="bold" font-style="normal" text-anchor="end" stroke="#000" stroke-width="0.3">CML 6703</text>
<text transform="translate(121.60,554.34) scale(1.03,1)" font-size="9.7" font-weight="bold" font-style="normal" text-anchor="start" stroke="#000" stroke-width="0.3">+</text>
<line x1="128.40" y1="550.69" x2="131.25" y2="550.69" stroke="#000" stroke-width="1.4" stroke-linecap="butt"/>
<text transform="translate(115.90,564.28) scale(1.03,1)" font-size="9.7" font-weight="bold" font-style="normal" text-anchor="end" stroke="#000" stroke-width="0.3">CML 5266</text>
<text transform="translate(121.60,564.28) scale(1.03,1)" font-size="9.7" font-weight="bold" font-style="normal" text-anchor="start" stroke="#000" stroke-width="0.3">+</text>
<line x1="128.40" y1="560.66" x2="131.25" y2="560.66" stroke="#000" stroke-width="1.4" stroke-linecap="butt"/>
<text transform="translate(115.90,574.21) scale(1.03,1)" font-size="9.7" font-weight="bold" font-style="normal" text-anchor="end" stroke="#000" stroke-width="0.3">CML 6764</text>
<text transform="translate(121.60,574.21) scale(1.03,1)" font-size="9.7" font-weight="bold" font-style="normal" text-anchor="start" stroke="#000" stroke-width="0.3">+</text>
<line x1="128.40" y1="570.63" x2="131.25" y2="570.63" stroke="#000" stroke-width="1.4" stroke-linecap="butt"/>
<text transform="translate(115.90,584.15) scale(1.03,1)" font-size="9.7" font-weight="bold" font-style="normal" text-anchor="end" stroke="#000" stroke-width="0.3">AML 1235</text>
<text transform="translate(121.60,584.15) scale(1.03,1)" font-size="9.7" font-weight="bold" font-style="normal" text-anchor="start" stroke="#000" stroke-width="0.3">+</text>
<line x1="128.40" y1="580.60" x2="131.25" y2="580.60" stroke="#000" stroke-width="1.4" stroke-linecap="butt"/>
<text transform="translate(115.90,594.08) scale(1.03,1)" font-size="9.7" font-weight="bold" font-style="normal" text-anchor="end" stroke="#000" stroke-width="0.3">AML 3761</text>
<text transform="translate(121.60,594.08) scale(1.03,1)" font-size="9.7" font-weight="bold" font-style="normal" text-anchor="start" stroke="#000" stroke-width="0.3">+</text>
<line x1="128.40" y1="590.57" x2="131.25" y2="590.57" stroke="#000" stroke-width="1.4" stroke-linecap="butt"/>
<text transform="translate(118.50,604.02) scale(1.03,1)" font-size="9.7" font-weight="bold" font-style="normal" text-anchor="end" stroke="#000" stroke-width="0.3">CLL 6689</text>
<text transform="translate(121.60,604.02) scale(1.03,1)" font-size="9.7" font-weight="bold" font-style="normal" text-anchor="start" stroke="#000" stroke-width="0.3">+</text>
<line x1="128.40" y1="600.54" x2="131.25" y2="600.54" stroke="#000" stroke-width="1.4" stroke-linecap="butt"/>
<text transform="translate(118.50,613.95) scale(1.03,1)" font-size="9.7" font-weight="bold" font-style="normal" text-anchor="end" stroke="#000" stroke-width="0.3">ALL 5173</text>
<text transform="translate(121.60,613.95) scale(1.03,1)" font-size="9.7" font-weight="bold" font-style="normal" text-anchor="start" stroke="#000" stroke-width="0.3">+</text>
<line x1="128.40" y1="610.51" x2="131.25" y2="610.51" stroke="#000" stroke-width="1.4" stroke-linecap="butt"/>
<text transform="translate(118.50,623.89) scale(1.03,1)" font-size="9.7" font-weight="bold" font-style="normal" text-anchor="end" stroke="#000" stroke-width="0.3">CML 1159</text>
<text transform="translate(121.60,623.89) scale(1.03,1)" font-size="9.7" font-weight="bold" font-style="normal" text-anchor="start" stroke="#000" stroke-width="0.3">-</text>
<line x1="128.40" y1="620.48" x2="131.25" y2="620.48" stroke="#000" stroke-width="1.4" stroke-linecap="butt"/>
<text transform="translate(115.90,633.82) scale(1.03,1)" font-size="9.7" font-weight="bold" font-style="normal" text-anchor="end" stroke="#000" stroke-width="0.3">AML 3813</text>
<text transform="translate(121.60,633.82) scale(1.03,1)" font-size="9.7" font-weight="bold" font-style="normal" text-anchor="start" stroke="#000" stroke-width="0.3">-</text>
<line x1="128.40" y1="630.45" x2="131.25" y2="630.45" stroke="#000" stroke-width="1.4" stroke-linecap="butt"/>
<text transform="translate(118.50,643.76) scale(1.03,1)" font-size="9.7" font-weight="bold" font-style="normal" text-anchor="end" stroke="#000" stroke-width="0.3">CLL 5428</text>
<text transform="translate(121.60,643.76) scale(1.03,1)" font-size="9.7" font-weight="bold" font-style="normal" text-anchor="start" stroke="#000" stroke-width="0.3">-</text>
<line x1="128.40" y1="640.42" x2="131.25" y2="640.42" stroke="#000" stroke-width="1.4" stroke-linecap="butt"/>
<text transform="translate(118.50,653.69) scale(1.03,1)" font-size="9.7" font-weight="bold" font-style="normal" text-anchor="end" stroke="#000" stroke-width="0.3">ALL 3658</text>
<text transform="translate(121.60,653.69) scale(1.03,1)" font-size="9.7" font-weight="bold" font-style="normal" text-anchor="start" stroke="#000" stroke-width="0.3">-</text>
<line x1="128.40" y1="650.39" x2="131.25" y2="650.39" stroke="#000" stroke-width="1.4" stroke-linecap="butt"/>
<text transform="translate(118.50,663.63) scale(1.03,1)" font-size="9.7" font-weight="bold" font-style="normal" text-anchor="end" stroke="#000" stroke-width="0.3">PAT FB 6940</text>
<text transform="translate(121.60,663.63) scale(1.03,1)" font-size="9.7" font-weight="bold" font-style="normal" text-anchor="start" stroke="#000" stroke-width="0.3">+</text>
<line x1="128.40" y1="660.36" x2="131.25" y2="660.36" stroke="#000" stroke-width="1.4" stroke-linecap="butt"/>
<text transform="translate(118.50,673.56) scale(1.03,1)" font-size="9.7" font-weight="bold" font-style="normal" text-anchor="end" stroke="#000" stroke-width="0.3">PAT FB+IFN 6940</text>
<text transform="translate(121.60,673.56) scale(1.03,1)" font-size="9.7" font-weight="bold" font-style="normal" text-anchor="start" stroke="#000" stroke-width="0.3">+</text>
<line x1="128.40" y1="670.33" x2="131.25" y2="670.33" stroke="#000" stroke-width="1.4" stroke-linecap="butt"/>
<text transform="translate(118.50,683.50) scale(1.03,1)" font-size="9.7" font-weight="bold" font-style="normal" text-anchor="end" stroke="#000" stroke-width="0.3">FB 5392</text>
<text transform="translate(121.60,683.50) scale(1.03,1)" font-size="9.7" font-weight="bold" font-style="normal" text-anchor="start" stroke="#000" stroke-width="0.3">+</text>
<line x1="128.40" y1="680.30" x2="131.25" y2="680.30" stroke="#000" stroke-width="1.4" stroke-linecap="butt"/>
<text transform="translate(118.50,693.43) scale(1.03,1)" font-size="9.7" font-weight="bold" font-style="normal" text-anchor="end" stroke="#000" stroke-width="0.3">FB+IFN 5392</text>
<text transform="translate(121.60,693.43) scale(1.03,1)" font-size="9.7" font-weight="bold" font-style="normal" text-anchor="start" stroke="#000" stroke-width="0.3">+</text>
<line x1="128.40" y1="690.27" x2="131.25" y2="690.27" stroke="#000" stroke-width="1.4" stroke-linecap="butt"/>
<text transform="translate(118.50,703.37) scale(1.03,1)" font-size="9.7" font-weight="bold" font-style="normal" text-anchor="end" stroke="#000" stroke-width="0.3">FB 4766</text>
<text transform="translate(121.60,703.37) scale(1.03,1)" font-size="9.7" font-weight="bold" font-style="normal" text-anchor="start" stroke="#000" stroke-width="0.3">-</text>
<line x1="128.40" y1="700.24" x2="131.25" y2="700.24" stroke="#000" stroke-width="1.4" stroke-linecap="butt"/>
<text transform="translate(118.50,713.30) scale(1.03,1)" font-size="9.7" font-weight="bold" font-style="normal" text-anchor="end" stroke="#000" stroke-width="0.3">FB+IFN 4766</text>
<text transform="translate(121.60,713.30) scale(1.03,1)" font-size="9.7" font-weight="bold" font-style="normal" text-anchor="start" stroke="#000" stroke-width="0.3">-</text>
<line x1="128.40" y1="710.21" x2="131.25" y2="710.21" stroke="#000" stroke-width="1.4" stroke-linecap="butt"/>
<line x1="235.50" y1="481.50" x2="238.00" y2="481.50" stroke="#000" stroke-width="1.2" stroke-linecap="butt"/>
<line x1="235.50" y1="479.90" x2="235.50" y2="483.10" stroke="#000" stroke-width="1.2" stroke-linecap="butt"/>
<rect x="238.00" y="478.50" width="34.50" height="6.00" fill="#666" stroke="#000" stroke-width="1.25" rx="0.8"/>
<line x1="245.50" y1="550.50" x2="247.00" y2="550.50" stroke="#000" stroke-width="1.2" stroke-linecap="butt"/>
<line x1="245.50" y1="548.90" x2="245.50" y2="552.10" stroke="#000" stroke-width="1.2" stroke-linecap="butt"/>
<rect x="247.00" y="547.50" width="25.50" height="6.00" fill="#666" stroke="#000" stroke-width="1.25" rx="0.8"/>
<line x1="233.75" y1="560.50" x2="236.25" y2="560.50" stroke="#000" stroke-width="1.2" stroke-linecap="butt"/>
<line x1="233.75" y1="558.90" x2="233.75" y2="562.10" stroke="#000" stroke-width="1.2" stroke-linecap="butt"/>
<rect x="236.25" y="557.50" width="36.25" height="6.00" fill="#666" stroke="#000" stroke-width="1.25" rx="0.8"/>
<line x1="220.00" y1="570.50" x2="223.25" y2="570.50" stroke="#000" stroke-width="1.2" stroke-linecap="butt"/>
<line x1="220.00" y1="568.90" x2="220.00" y2="572.10" stroke="#000" stroke-width="1.2" stroke-linecap="butt"/>
<rect x="223.25" y="567.50" width="49.25" height="6.00" fill="#666" stroke="#000" stroke-width="1.25" rx="0.8"/>
<line x1="188.00" y1="590.50" x2="193.75" y2="590.50" stroke="#000" stroke-width="1.2" stroke-linecap="butt"/>
<line x1="188.00" y1="588.90" x2="188.00" y2="592.10" stroke="#000" stroke-width="1.2" stroke-linecap="butt"/>
<rect x="193.75" y="587.50" width="78.75" height="6.00" fill="#666" stroke="#000" stroke-width="1.25" rx="0.8"/>
<rect x="235.50" y="597.50" width="37.00" height="6.00" fill="#666" stroke="#000" stroke-width="1.25" rx="0.8"/>
<rect x="262.00" y="607.50" width="10.50" height="6.00" fill="#666" stroke="#000" stroke-width="1.25" rx="0.8"/>
<rect x="168.00" y="487.50" width="104.50" height="6.00" fill="#666" stroke="#000" stroke-width="1.25" rx="0.8"/>
<rect x="168.00" y="497.50" width="104.50" height="6.00" fill="#666" stroke="#000" stroke-width="1.25" rx="0.8"/>
<rect x="168.00" y="577.50" width="104.50" height="6.00" fill="#666" stroke="#000" stroke-width="1.25" rx="0.8"/>
<line x1="148.75" y1="490.50" x2="151.25" y2="490.50" stroke="#000" stroke-width="1.2" stroke-linecap="butt"/>
<line x1="148.75" y1="488.90" x2="148.75" y2="492.10" stroke="#000" stroke-width="1.2" stroke-linecap="butt"/>
<rect x="151.25" y="487.50" width="8.75" height="6.00" fill="#666" stroke="#000" stroke-width="1.25" rx="0.8"/>
<line x1="154.50" y1="580.50" x2="155.75" y2="580.50" stroke="#000" stroke-width="1.2" stroke-linecap="butt"/>
<line x1="154.50" y1="578.90" x2="154.50" y2="582.10" stroke="#000" stroke-width="1.2" stroke-linecap="butt"/>
<rect x="155.75" y="577.50" width="4.25" height="6.00" fill="#666" stroke="#000" stroke-width="1.25" rx="0.8"/>
<path d="M160,497.10 Q157.4,500.50 160,503.90" fill="none" stroke="#000" stroke-width="1.4"/>
<rect x="272.50" y="478.50" width="93.00" height="6.00" fill="#fff" stroke="#000" stroke-width="1.25" rx="0.8"/>
<rect x="272.50" y="507.50" width="10.00" height="6.00" fill="#fff" stroke="#000" stroke-width="1.25" rx="0.8"/>
<line x1="337.00" y1="550.50" x2="334.50" y2="550.50" stroke="#000" stroke-width="1.2" stroke-linecap="butt"/>
<line x1="337.00" y1="548.90" x2="337.00" y2="552.10" stroke="#000" stroke-width="1.2" stroke-linecap="butt"/>
<rect x="272.50" y="547.50" width="62.00" height="6.00" fill="#fff" stroke="#000" stroke-width="1.25" rx="0.8"/>
<line x1="364.50" y1="560.50" x2="363.00" y2="560.50" stroke="#000" stroke-width="1.2" stroke-linecap="butt"/>
<line x1="364.50" y1="558.90" x2="364.50" y2="562.10" stroke="#000" stroke-width="1.2" stroke-linecap="butt"/>
<rect x="272.50" y="557.50" width="90.50" height="6.00" fill="#fff" stroke="#000" stroke-width="1.25" rx="0.8"/>
<line x1="368.20" y1="570.50" x2="367.00" y2="570.50" stroke="#000" stroke-width="1.2" stroke-linecap="butt"/>
<line x1="368.20" y1="568.90" x2="368.20" y2="572.10" stroke="#000" stroke-width="1.2" stroke-linecap="butt"/>
<rect x="272.50" y="567.50" width="94.50" height="6.00" fill="#fff" stroke="#000" stroke-width="1.25" rx="0.8"/>
<rect x="272.50" y="587.50" width="128.00" height="6.00" fill="#fff" stroke="#000" stroke-width="1.25" rx="0.8"/>
<rect x="272.50" y="597.50" width="85.00" height="6.00" fill="#fff" stroke="#000" stroke-width="1.25" rx="0.8"/>
<rect x="272.50" y="607.50" width="30.75" height="6.00" fill="#fff" stroke="#000" stroke-width="1.25" rx="0.8"/>
<rect x="272.50" y="617.50" width="30.75" height="6.00" fill="#fff" stroke="#000" stroke-width="1.25" rx="0.8"/>
<rect x="272.50" y="627.50" width="85.50" height="6.00" fill="#fff" stroke="#000" stroke-width="1.25" rx="0.8"/>
<rect x="272.50" y="637.50" width="3.25" height="6.00" fill="#fff" stroke="#000" stroke-width="1.25" rx="0.8"/>
<rect x="272.50" y="647.50" width="17.50" height="6.00" fill="#fff" stroke="#000" stroke-width="1.25" rx="0.8"/>
<rect x="270.00" y="517.50" width="9.25" height="6.00" fill="#fff" stroke="#000" stroke-width="1.25" rx="0.8"/>
<rect x="269.50" y="527.50" width="11.25" height="6.00" fill="#fff" stroke="#000" stroke-width="1.25" rx="0.8"/>
<rect x="269.25" y="537.50" width="7.00" height="6.00" fill="#fff" stroke="#000" stroke-width="1.25" rx="0.8"/>
<rect x="272.50" y="487.50" width="145.00" height="6.00" fill="#fff"/>
<line x1="272.50" y1="487.50" x2="417.50" y2="487.50" stroke="#000" stroke-width="1.25" stroke-linecap="butt"/>
<line x1="272.50" y1="493.50" x2="417.50" y2="493.50" stroke="#000" stroke-width="1.25" stroke-linecap="butt"/>
<rect x="272.50" y="497.50" width="145.00" height="6.00" fill="#fff"/>
<line x1="272.50" y1="497.50" x2="417.50" y2="497.50" stroke="#000" stroke-width="1.25" stroke-linecap="butt"/>
<line x1="272.50" y1="503.50" x2="417.50" y2="503.50" stroke="#000" stroke-width="1.25" stroke-linecap="butt"/>
<rect x="272.50" y="577.50" width="145.00" height="6.00" fill="#fff"/>
<line x1="272.50" y1="577.50" x2="417.50" y2="577.50" stroke="#000" stroke-width="1.25" stroke-linecap="butt"/>
<line x1="272.50" y1="583.50" x2="417.50" y2="583.50" stroke="#000" stroke-width="1.25" stroke-linecap="butt"/>
<line x1="425.00" y1="486.90" x2="425.00" y2="494.10" stroke="#000" stroke-width="1.5" stroke-linecap="butt"/>
<path d="M425.5,497.30 H431.5 Q434,497.30 434,500.50 Q434,503.70 431.5,503.70 H425.5" fill="#fff" stroke="#000" stroke-width="1.4"/>
<path d="M425.2,577.30 H426.8 Q428.2,577.30 428.2,578.90 V582.10 Q428.2,583.70 426.8,583.70 H425.2" fill="none" stroke="#000" stroke-width="1.5"/>
<text transform="translate(135.50,493.87) scale(1.0,1)" font-size="8.6" font-weight="bold" font-style="normal" text-anchor="start" stroke="#000" stroke-width="0.3">48</text>
<text transform="translate(135.50,503.84) scale(1.0,1)" font-size="8.6" font-weight="bold" font-style="normal" text-anchor="start" stroke="#000" stroke-width="0.3">26</text>
<text transform="translate(135.50,583.60) scale(1.0,1)" font-size="8.6" font-weight="bold" font-style="normal" text-anchor="start" stroke="#000" stroke-width="0.3">35</text>
<text transform="translate(443.70,493.87) scale(1.0,1)" font-size="8.6" font-weight="bold" font-style="normal" text-anchor="start" stroke="#000" stroke-width="0.3">117</text>
<text transform="translate(443.70,503.84) scale(1.0,1)" font-size="8.6" font-weight="bold" font-style="normal" text-anchor="start" stroke="#000" stroke-width="0.3">163</text>
<text transform="translate(441.80,583.60) scale(1.0,1)" font-size="8.6" font-weight="bold" font-style="normal" text-anchor="start" stroke="#000" stroke-width="0.3">128</text>
<line x1="17.00" y1="534.75" x2="466.50" y2="534.75" stroke="#000" stroke-width="1.3" stroke-linecap="butt"/>
<line x1="17.50" y1="654.75" x2="466.50" y2="654.75" stroke="#000" stroke-width="1.3" stroke-linecap="butt"/>
<line x1="131.25" y1="476.00" x2="131.25" y2="715.40" stroke="#000" stroke-width="1.6" stroke-linecap="butt"/>
<line x1="272.50" y1="476.00" x2="272.50" y2="717.00" stroke="#000" stroke-width="1.5" stroke-linecap="butt"/>
<line x1="130.45" y1="714.70" x2="160.50" y2="714.70" stroke="#000" stroke-width="1.5" stroke-linecap="butt"/>
<line x1="167.50" y1="714.70" x2="418.00" y2="714.70" stroke="#000" stroke-width="1.5" stroke-linecap="butt"/>
<line x1="424.50" y1="714.70" x2="440.00" y2="714.70" stroke="#000" stroke-width="1.5" stroke-linecap="butt"/>
<line x1="160.50" y1="712.30" x2="160.50" y2="717.00" stroke="#000" stroke-width="1.3" stroke-linecap="butt"/>
<line x1="167.50" y1="712.30" x2="167.50" y2="717.00" stroke="#000" stroke-width="1.3" stroke-linecap="butt"/>
<line x1="418.00" y1="712.30" x2="418.00" y2="717.00" stroke="#000" stroke-width="1.3" stroke-linecap="butt"/>
<line x1="424.50" y1="712.30" x2="424.50" y2="717.00" stroke="#000" stroke-width="1.3" stroke-linecap="butt"/>
<line x1="150.00" y1="714.70" x2="150.00" y2="717.00" stroke="#000" stroke-width="1.3" stroke-linecap="butt"/>
<line x1="376.30" y1="714.70" x2="376.30" y2="717.00" stroke="#000" stroke-width="1.3" stroke-linecap="butt"/>
<line x1="430.50" y1="714.70" x2="430.50" y2="717.00" stroke="#000" stroke-width="1.3" stroke-linecap="butt"/>
<text transform="translate(150.60,727.20) scale(1.0,1)" font-size="8.5" font-weight="bold" font-style="normal" text-anchor="middle" stroke="#000" stroke-width="0.3">50</text>
<text transform="translate(167.80,727.20) scale(1.0,1)" font-size="8.5" font-weight="bold" font-style="normal" text-anchor="middle" stroke="#000" stroke-width="0.3">25</text>
<text transform="translate(272.50,727.20) scale(1.0,1)" font-size="8.5" font-weight="bold" font-style="normal" text-anchor="middle" stroke="#000" stroke-width="0.3">0</text>
<text transform="translate(376.50,727.20) scale(1.0,1)" font-size="8.5" font-weight="bold" font-style="normal" text-anchor="middle" stroke="#000" stroke-width="0.3">25</text>
<text transform="translate(431.00,727.20) scale(1.0,1)" font-size="8.5" font-weight="bold" font-style="normal" text-anchor="middle" stroke="#000" stroke-width="0.3">150</text>
<text transform="translate(204.80,745.00) scale(1.003,1)" font-size="11" font-weight="bold" font-style="normal" text-anchor="start" stroke="#000" stroke-width="0.3">Expression (arbitrary units)</text>
<line x1="273.70" y1="657.36" x2="273.70" y2="663.36" stroke="#000" stroke-width="1.2" stroke-linecap="butt"/>
<line x1="273.70" y1="667.33" x2="273.70" y2="673.33" stroke="#000" stroke-width="1.2" stroke-linecap="butt"/>
<line x1="273.50" y1="678.80" x2="273.50" y2="681.80" stroke="#000" stroke-width="0.8" stroke-linecap="butt"/>
<line x1="273.50" y1="688.77" x2="273.50" y2="691.77" stroke="#000" stroke-width="0.8" stroke-linecap="butt"/>
<line x1="273.50" y1="698.74" x2="273.50" y2="701.74" stroke="#000" stroke-width="0.8" stroke-linecap="butt"/>
<line x1="273.50" y1="708.71" x2="273.50" y2="711.71" stroke="#000" stroke-width="0.8" stroke-linecap="butt"/>
<rect x="311.80" y="674.60" width="10.00" height="7.40" fill="#fff" stroke="#000" stroke-width="1.1" rx="0.8"/>
<rect x="311.80" y="685.20" width="10.00" height="7.60" fill="#4d4d4d" stroke="#000" stroke-width="1.1" rx="0.8"/>
<text transform="translate(326.8,682) scale(1,1)" font-size="9.6" font-weight="normal" fill="#222"><tspan font-style="italic">ITGB2</tspan> normal transcript</text>
<text transform="translate(326.8,691.6) scale(1,1)" font-size="9.6" font-weight="normal" fill="#222"><tspan font-style="italic">ITGB2</tspan> alternative transcript</text>
</svg>
</body></html>
